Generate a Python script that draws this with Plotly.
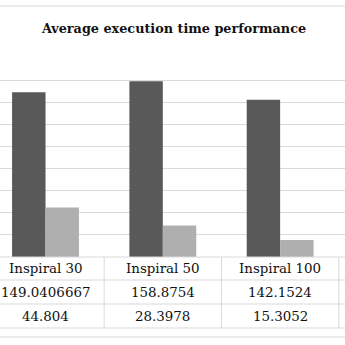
import plotly.graph_objects as go

categories = ["Inspiral 30", "Inspiral 50", "Inspiral 100"]
series_a = [149.0406667, 158.8754, 142.1524]
series_b = [44.804, 28.3978, 15.3052]
title_text = "Average execution time performance"

W, H = 345, 345
TOP, BOT = 58, 257  # plot area pixels
FAMILY = "DejaVu Serif"


def py(p):
    return (BOT - p) / (BOT - TOP)


fig = go.Figure()
xs = list(range(len(categories)))
fig.add_bar(x=xs, y=series_a, marker_color="#595959", marker_line_width=0, name="A")
fig.add_bar(x=xs, y=series_b, marker_color="#afafaf", marker_line_width=0, name="B")

grid = "#d9d9d9"
shapes = []
for p in [6, 337]:
    shapes.append(dict(type="line", xref="paper", yref="paper", x0=0, x1=1, y0=py(p), y1=py(p),
                       line=dict(color=grid, width=1)))
for p in [257, 280, 304, 328]:
    shapes.append(dict(type="line", xref="paper", yref="paper", x0=0, x1=1, y0=py(p), y1=py(p),
                       line=dict(color=grid, width=1)))
for i in range(len(categories)):
    xb = i + 0.5
    shapes.append(dict(type="line", xref="x", yref="paper", x0=xb, x1=xb, y0=py(257), y1=py(328),
                       line=dict(color=grid, width=1)))

annotations = []
font = dict(family=FAMILY, size=13.4, color="#111111")
rows = [categories, [str(v) for v in series_a], [str(v) for v in series_b]]
row_centers = [268.5, 292, 316]
for r, vals in enumerate(rows):
    for i, t in enumerate(vals):
        annotations.append(dict(x=i, y=py(row_centers[r]), xref="x", yref="paper", text=t,
                                showarrow=False, font=font, xanchor="center", yanchor="middle"))

fig.update_layout(
    width=W, height=H,
    font=dict(family=FAMILY),
    margin=dict(l=0, r=0, t=TOP, b=H - BOT, pad=0),
    paper_bgcolor="white", plot_bgcolor="white",
    barmode="group", bargap=0.43, bargroupgap=0,
    showlegend=False,
    title=dict(text="<b>" + title_text + "</b>", x=174 / W, xanchor="center", xref="paper",
               y=1 - 29 / H, yanchor="middle", yref="container",
               font=dict(family=FAMILY, size=12.8, color="#111111")),
    xaxis=dict(range=[-0.388, 2.553], showticklabels=False, showgrid=False, zeroline=False,
               showline=False, ticks=""),
    yaxis=dict(range=[0, 180], dtick=20, showgrid=True, gridcolor=grid, gridwidth=1,
               showticklabels=False, zeroline=False, showline=False, ticks=""),
    shapes=shapes,
    annotations=annotations,
)

fig.write_html("out.html")
